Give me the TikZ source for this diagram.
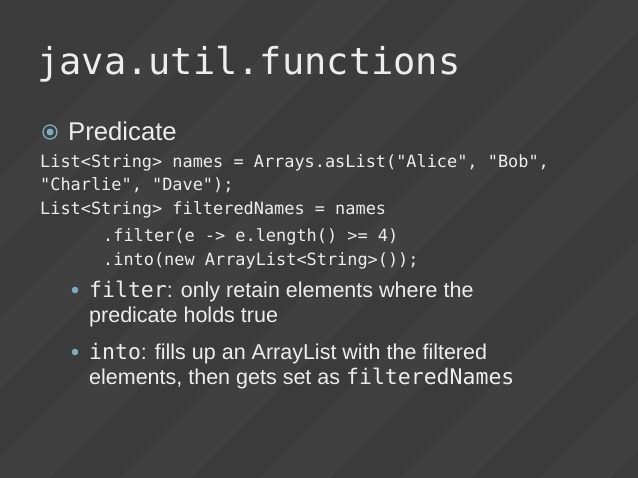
\documentclass[tikz,border=0pt]{standalone}
\usepackage{fontspec}
\setmainfont{Liberation Sans}
\newfontfamily\codefont{DejaVu Sans Mono}
\begin{document}
\begin{tikzpicture}[x=1pt,y=-1pt,
  txt/.style={anchor=base west,inner sep=0pt,text=white!93!black},
  code/.style={txt,font=\codefont\fontsize{16.9}{18}\selectfont},
  bul/.style={txt,font=\fontsize{21.5}{24}\selectfont}]
\fill[black!77] (0,0) rectangle (638,478);
\begin{scope}
\clip (0,0) rectangle (638,478);
\foreach \s in {-300,-160,-20,120,260,400,540,680,820}
  \fill[black!75] (\s,478) -- (\s+70,478) -- (\s+548,0) -- (\s+478,0) -- cycle;
\end{scope}
\useasboundingbox (0,0) rectangle (638,478);
\node[txt,font=\codefont\fontsize{37}{40}\selectfont] (title) at (37,75) {java.util.functions};
\node[circle,draw=cyan!40!gray!90,line width=1.3pt,minimum size=14pt,inner sep=0pt] (pb) at (50,132) {};
\fill[cyan!40!gray!90] (pb) circle (3.5pt);
\node[txt,font=\fontsize{25.7}{28}\selectfont] (pred) at (68,141) {Predicate};
\node[code] (c1) at (40,168) {List<String> names = Arrays.asList("Alice", "Bob",};
\node[code] (c2) at (40,191) {"Charlie", "Dave");};
\node[code] (c3) at (40,215) {List<String> filteredNames = names};
\node[code] (c4) at (103,242) {.filter(e -> e.length() >= 4)};
\node[code] (c5) at (103,266) {.into(new ArrayList<String>());};
\fill[cyan!40!gray!90] (75,290) circle (3.3pt);
\node[bul] (b1) at (89,298) {{\codefont filter}: only retain elements where the};
\node[bul] (b1b) at (89,323) {predicate holds true};
\fill[cyan!40!gray!90] (75,352) circle (3.3pt);
\node[bul] (b2) at (89,360) {{\codefont into}: fills up an ArrayList with the filtered};
\node[bul] (b2b) at (89,385) {elements, then gets set as {\codefont filteredNames}};
\end{tikzpicture}
\end{document}
